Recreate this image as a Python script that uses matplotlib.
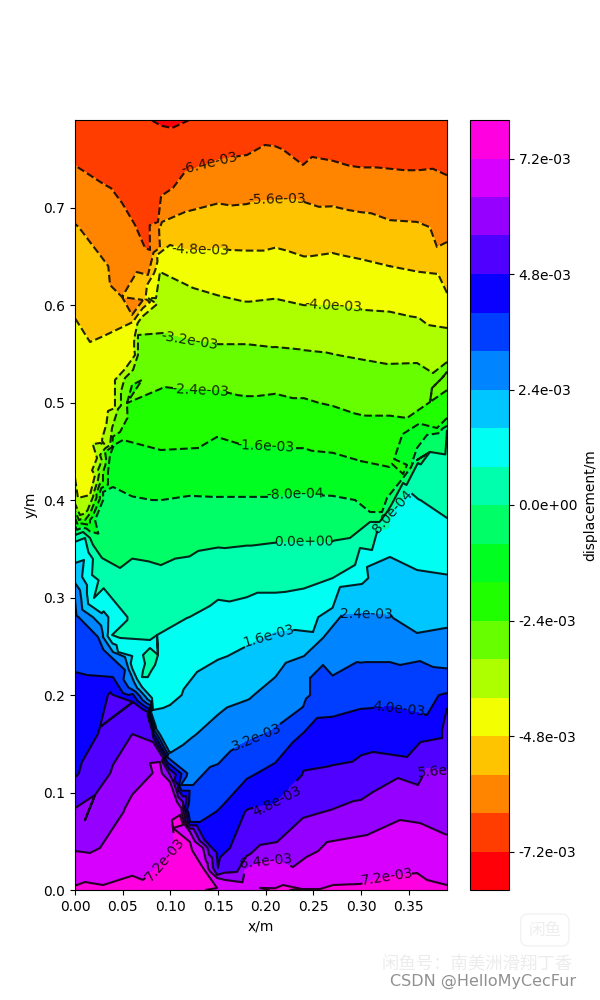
import matplotlib
matplotlib.use('Agg')
import matplotlib.pyplot as plt
import numpy as np

x_nodes = [0.00, 0.03, 0.06, 0.09, 0.12, 0.15, 0.18, 0.21, 0.24, 0.27, 0.30, 0.33, 0.36, 0.39]
y_nodes = [0.00, 0.04, 0.08, 0.12, 0.16, 0.20, 0.24, 0.28, 0.32, 0.36, 0.40,
           0.44, 0.48, 0.52, 0.56, 0.60, 0.64, 0.68, 0.72, 0.76, 0.79]

# displacement in 1e-3 m, one row per y node (bottom to top)
disp_mm = [
    [7.3, 7.3, 7.35, 7.5, 7.45, 7.0, 7.0, 7.25, 7.15, 7.3, 7.3, 7.4, 7.4, 7.4],
    [6.4, 6.45, 6.94, 7.05, 7.4, 4.55, 5.3, 6.0, 6.25, 6.55, 6.55, 6.85, 6.95, 6.65],
    [5.7, 5.94, 6.6, 6.85, 3.6, 4.05, 4.85, 4.95, 5.5, 5.65, 5.85, 6.1, 6.25, 6.1],
    [4.7, 5.43, 6.15, 6.5, 2.9, 3.35, 3.85, 4.25, 4.85, 4.95, 5.05, 5.2, 5.35, 5.65],
    [4.4, 4.9, 5.6, 2.1, 2.3, 2.7, 3.05, 3.3, 4.05, 4.2, 4.5, 4.6, 4.55, 5.05],
    [4.15, 4.5, 4.2, 1.2, 1.75, 2.1, 2.3, 2.7, 3.05, 3.75, 3.7, 3.75, 3.75, 4.1],
    [3.82, 3.6, 1.6, 1.0, 1.4, 1.55, 1.7, 2.05, 2.4, 2.65, 3.1, 3.1, 3.1, 2.8],
    [3.4, 1.8, 0.6, 0.7, 0.8, 1.0, 1.11, 1.3, 1.35, 1.85, 2.5, 2.45, 2.2, 2.25],
    [2.17, 0.45, 0.2, 0.15, 0.3, 0.55, 0.5, 0.5, 0.6, 0.8, 1.5, 1.9, 1.7, 1.65],
    [0.7, -0.3, -0.2, -0.3, -0.24, -0.15, -0.1, -0.05, -0.05, -0.05, 0.0, 1.25, 1.15, 1.1],
    [-3.6, -0.7, -0.75, -0.8, -0.73, -0.75, -0.75, -0.75, -0.7, -0.72, -0.85, -0.6, 0.82, 0.55],
    [-4.3, -2.9, -1.28, -1.4, -1.37, -1.35, -1.35, -1.35, -1.4, -1.45, -1.6, -1.75, -0.05, 0.25],
    [-4.4, -4.4, -2.0, -2.1, -1.93, -1.95, -2.0, -2.0, -2.0, -2.15, -2.3, -2.3, -1.7, -1.5],
    [-4.45, -4.4, -2.5, -2.45, -2.5, -2.5, -2.6, -2.55, -2.65, -2.75, -2.84, -2.9, -2.85, -2.6],
    [-4.6, -4.7, -4.4, -3.05, -3.14, -3.2, -3.2, -3.25, -3.3, -3.35, -3.43, -3.5, -3.57, -3.7],
    [-4.9, -5.18, -5.75, -3.57, -3.74, -3.84, -3.95, -3.9, -4.0, -4.0, -4.07, -4.1, -4.2, -4.6],
    [-5.3, -5.53, -5.96, -4.2, -4.5, -4.48, -4.5, -4.5, -4.65, -4.58, -4.68, -4.8, -4.9, -5.25],
    [-5.55, -5.93, -6.35, -5.45, -5.25, -5.16, -5.25, -5.13, -5.25, -5.23, -5.35, -5.5, -5.5, -5.75],
    [-6.12, -6.33, -6.6, -6.64, -6.0, -5.88, -5.84, -5.8, -5.79, -5.92, -6.0, -6.05, -6.1, -6.25],
    [-6.6, -6.75, -6.85, -6.99, -6.75, -6.6, -6.5, -6.35, -6.55, -6.6, -6.75, -6.75, -6.75, -6.7],
    [-6.8, -7.0, -7.1, -7.25, -7.2, -7.0, -6.95, -6.85, -6.9, -6.95, -7.0, -7.05, -7.05, -7.05],
]

# extra samples where the field changes sharply: (x, y) read on each isoline
iso_m72 = [(.1017, .7818)]
iso_m64 = [(.0299, .7243), (.0493, .7049), (.0629, .6823), (.0734, .6587), (.0786, .6566), (.0870, .6854),
           (.1027, .7203), (.1153, .7367), (.1992, .7644), (.2390, .7439), (.2485, .7521)]
iso_m56 = [(.0157, .6648), (.0262, .6515), (.0367, .6207), (.0493, .6084), (.0598, .5900), (.0713, .6054),
           (.0765, .6310), (.0818, .6515), (.0912, .6854), (.1153, .6956), (.3586, .6854), (.3795, .6597),
           (.39, .6648)]
iso_m48 = [(.0157, .5622), (.0493, .5540), (.0608, .5828), (.0755, .6207), (.0860, .6515), (.0996, .6618),
           (.3806, .6320), (.39, .6125)]
iso_m40 = [(.0031, .4022), (.0105, .3930), (.0157, .4053), (.0210, .4258), (.0231, .4432), (.0315, .4566),
           (.0346, .4915), (.0419, .4945), (.0419, .5233), (.0524, .5345), (.0629, .5489), (.0629, .5694),
           (.0765, .6074), (.0891, .6341), (.1237, .6177), (.3701, .5797), (.3722, .5622), (.3795, .5458),
           (.39, .5766)]
iso_m32 = [(.0052, .3847), (.0241, .4207), (.0262, .4463), (.0367, .4566), (.0388, .4740), (.0451, .4935),
           (.0524, .5253), (.0608, .5335), (.0660, .5489), (.0660, .5694), (.0702, .5797), (.0923, .5715),
           (.3271, .5397), (.3586, .5407), (.3690, .5458), (.3753, .5304), (.39, .5417)]
iso_m24 = [(.0105, .3796), (.0294, .4289), (.0315, .4494), (.0388, .4545), (.0472, .4699), (.0545, .4996),
           (.0598, .5181), (.0702, .5233), (.3481, .4843), (.3722, .5007), (.3743, .5150), (.3848, .5253),
           (.39, .5315)]
iso_m16 = [(.0157, .3745), (.0346, .4289), (.0367, .4463), (.0409, .4566), (.0503, .4617), (.1290, .4535),
           (.1489, .4648), (.3439, .4268), (.3481, .4361), (.3586, .4771), (.3690, .4874), (.3795, .4740),
           (.39, .4843)]
iso_m08 = [(.0210, .3796), (.0294, .4083), (.0398, .4135), (.0807, .4001), (.2936, .4001), (.3093, .3878),
           (.3219, .3878), (.3271, .4022), (.3439, .4227), (.3586, .4535), (.3690, .4668), (.3827, .4689)]
iso_00 = [(.0084, .3673), (.0157, .3612), (.0189, .3540), (.0283, .3406), (.0294, .3283), (.0472, .3304),
          (.2883, .3612), (.3009, .3612), (.3093, .3776), (.3271, .3878), (.3355, .4022), (.3439, .4176),
          (.3586, .4412), (.3722, .4494), (.39, .4720)]
iso_p08 = [(.0105, .3612), (.0178, .3232), (.0199, .2996), (.0388, .2616), (.0472, .2586), (.0786, .2565),
           (.0860, .2616), (.1174, .2791), (.2936, .3335), (.2988, .3509), (.3114, .3488), (.3166, .3673),
           (.3334, .3878), (.3428, .3981), (.3512, .4083), (.39, .3817), (.0786, .2483), (.0870, .2412),
           (.0839, .2309), (.0702, .2185), (.0713, .2412)]
iso_p16 = [(.0094, .3386), (.0126, .3129), (.0346, .2647), (.0451, .2442), (.0598, .2401), (.0650, .2165),
           (.0702, .2083), (.0807, .1970), (.0818, .1847), (.0923, .1867), (.0996, .1898), (.1279, .2237),
           (.1761, .2483), (.2307, .2668), (.2495, .2647), (.2778, .3109), (.3009, .3140), (.3061, .3314),
           (.3302, .3417), (.3586, .3283)]
iso_p24 = [(.0052, .3078), (.0294, .2596), (.0398, .2442), (.0524, .2391), (.0619, .2134), (.0797, .1826),
           (.0996, .1406), (.1132, .1488), (.2600, .2586), (.2799, .2822), (.3334, .2791), (.3586, .2637)]
iso_p32 = [(.0, .2975), (.0241, .2596), (.0346, .2421), (.0524, .2257), (.0608, .2052), (.0786, .1826),
           (.0828, .1642), (.0965, .1365), (.1111, .1077), (.1227, .0903), (.1237, .1077), (.1415, .1262),
           (.2390, .1878), (.2464, .2175), (.2600, .2309), (.3407, .2309), (.3617, .2349), (.3753, .2288)]
iso_p40 = [(.0, .2237), (.0126, .2206), (.0315, .2103), (.0398, .2185), (.0503, .2021), (.0556, .2001),
           (.1090, .1077), (.1174, .0821), (.1206, .0698), (.1310, .0698), (.1552, .0872), (.2286, .1518),
           (.2537, .1765), (.2988, .1857), (.3690, .1796), (.39, .2021)]
iso_p48 = [(.0073, .1313), (.0262, .1672), (.0608, .1929), (.0765, .1826), (.0807, .1642), (.0944, .1365),
           (.1080, .1077), (.1164, .0893), (.1184, .0698), (.1437, .0431), (.1499, .0226), (.1625, .0431),
           (.2380, .1180), (.3124, .1416), (.3481, .1365), (.3848, .1560), (.39, .1867)]
iso_p56 = [(.0105, .0718), (.0210, .0975), (.0398, .1283), (.0681, .1826), (.0818, .1518), (.0923, .1354),
           (.0996, .1180), (.1132, .0903), (.1174, .0667), (.1489, .0154), (.1698, .0185), (.1940, .0462),
           (.2118, .0492), (.2390, .0739), (.3124, .1005), (.3386, .1149), (.3596, .1077), (.3690, .1252)]
iso_p64 = [(.0157, .0380), (.0262, .0431), (.0440, .0698), (.0786, .1303), (.0891, .1313), (.0996, .1108),
           (.1069, .0903), (.1206, .0595), (.1342, .0431), (.1489, .0123), (.1573, .0103), (.1782, .0205),
           (.1940, .0287), (.2097, .0308), (.2286, .0236), (.2642, .0492), (.3061, .0564), (.3407, .0718),
           (.3491, .0841), (.3617, .0687), (.39, .0564)]
iso_p72 = [(.0105, .0082), (.0294, .0051), (.0713, .0103), (.0891, .0257), (.1048, .0431), (.1027, .0636),
           (.1017, .0718), (.1101, .0770), (.1132, .0667), (.1206, .0492), (.1342, .0226), (.1489, .0021),
           (.1940, .0021), (.2181, .0051), (.2380, .0010), (.2569, .0010), (.2705, .0051), (.2988, .0062),
           (.3586, .0174), (.3690, .0103), (.39, .0051)]

iso_lines = [(-7.2, iso_m72), (-6.4, iso_m64), (-5.6, iso_m56), (-4.8, iso_m48), (-4.0, iso_m40),
             (-3.2, iso_m32), (-2.4, iso_m24), (-1.6, iso_m16), (-0.8, iso_m08), (0.0, iso_00),
             (0.8, iso_p08), (1.6, iso_p16), (2.4, iso_p24), (3.2, iso_p32), (4.0, iso_p40),
             (4.8, iso_p48), (5.6, iso_p56), (6.4, iso_p64), (7.2, iso_p72)]

# a few more samples between the isolines (x, y, value in 1e-3 m)
extra_samples = [
    (.0849, .2001, 1.2), (.0860, .1672, 1.9), (.1206, .0841, 3.4), (.1384, .0513, 4.4),
    (.0755, .1780, 5.2), (.0367, .2001, 4.95), (.1562, .0205, 5.3), (.0786, .2345, 0.7), (.0755, .2237, 0.7),
    (.0629, .2278, 1.0), (.0912, .2278, 1.05), (.0786, .2514, 0.95), (.0786, .2052, 1.05),
    (.0765, .6823, -6.55), (.1017, .79, -7.35),
    (.0157, .4617, -4.3), (.0157, .4309, -4.3), (.0262, .4617, -4.2),
]

cbar_ticks = [-7.2e-3, -4.8e-3, -2.4e-3, 0.0, 2.4e-3, 4.8e-3, 7.2e-3]

# where the inline contour labels sit (x, y)
label_spots = [
    (.1415, .745), (.2118, .711), (.131, .662), (.2715, .603), (.1206, .565),
    (.131, .508), (.2, .457), (.2307, .404), (.24, .358), (.3334, .3878),
    (.2023, .2627), (.3061, .29), (.1897, .162), (.3397, .1847), (.2128, .0903),
    (.387, .125), (.2, .0295), (.0954, .0308), (.3281, .008),
]

levels = np.linspace(-8e-3, 8e-3, 21)

# grid nodes plus the isoline samples, all as scattered points
X, Y = np.meshgrid(x_nodes, y_nodes)
px = list(X.ravel())
py = list(Y.ravel())
pz = list(np.array(disp_mm).ravel())
for value, pts in iso_lines:
    for p in pts:
        px.append(p[0])
        py.append(p[1])
        pz.append(value)
for s in extra_samples:
    px.append(s[0])
    py.append(s[1])
    pz.append(s[2])
pz = np.array(pz) * 1e-3

fig = plt.figure(figsize=(6, 10), dpi=100)
ax = fig.add_subplot(111)

filled = ax.tricontourf(px, py, pz, levels=levels, cmap='gist_rainbow')
lines = ax.tricontour(px, py, pz, levels=levels, colors='k', linewidths=1.5, alpha=0.85)
labels = ax.clabel(lines, fmt='%.1e', fontsize=10, manual=label_spots)
for t in labels:
    t.set_clip_on(True)

ax.set_xlim(0, 0.39)
ax.set_ylim(0, 0.79)
ax.set_xlabel('x/m')
ax.set_ylabel('y/m')

cbar = fig.colorbar(filled, ax=ax, ticks=cbar_ticks, format='%.1e')
cbar.set_label('displacement/m')

# watermarks in the lower right corner
fig.text(0.908, 0.07, '闲鱼', fontsize=12, color='#eeeeee', ha='center', va='center',
         family=['Noto Sans CJK SC', 'DejaVu Sans'],
         bbox=dict(boxstyle='round,pad=0.45', fc='white', ec='#f2f2f2'))
fig.text(0.795, 0.037, '闲鱼号：南美洲滑翔丁香', fontsize=12.5, color='#ececec', ha='center', va='center',
         family=['Noto Sans CJK SC', 'DejaVu Sans'])
fig.text(0.65, 0.019, 'CSDN @HelloMyCecFur', fontsize=11.5, color='#909090', ha='left', va='center')

fig.savefig('out.png', dpi=100)
plt.close(fig)
